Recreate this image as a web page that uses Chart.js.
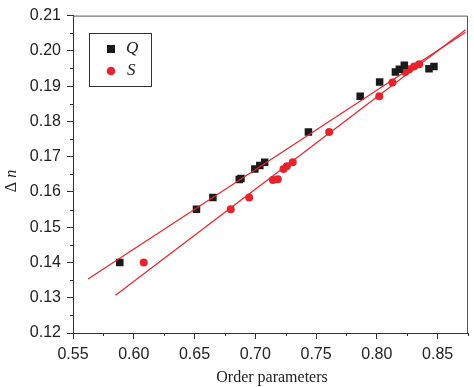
<!DOCTYPE html>
<html><head><meta charset="utf-8">
<script src="https://cdn.jsdelivr.net/npm/chart.js@4/dist/chart.umd.min.js"></script>
<style>html,body{margin:0;padding:0;background:#fff}</style>
</head><body>
<canvas id="c" width="474" height="387"></canvas>
<script>
// Q (black squares)
const qOrder = [0.5885,0.6516,0.6651,0.6868,0.6882,0.6996,0.7037,0.7077,0.7437,0.7863,0.8023,0.8153,0.8185,0.8226,0.8429,0.8470];
const qDn    = [0.1400,0.1551,0.1584,0.1635,0.1638,0.1665,0.1675,0.1684,0.1770,0.1871,0.1912,0.1940,0.1948,0.1959,0.1949,0.1956];
// S (red circles)
const sOrder = [0.6082,0.6798,0.6950,0.7145,0.7185,0.7232,0.7259,0.7308,0.7608,0.8020,0.8128,0.8234,0.8266,0.8307,0.8348];
const sDn    = [0.1400,0.1551,0.1584,0.1634,0.1636,0.1665,0.1673,0.1684,0.1770,0.1871,0.1910,0.1940,0.1948,0.1956,0.1962];
// linear fits (end points)
const qFitOrder = [0.5624, 0.8730];
const qFitDn    = [0.1353, 0.2053];
const sFitOrder = [0.5850, 0.8730];
const sFitDn    = [0.1307, 0.2060];
// tick labels
const xTicks = [0.55,0.60,0.65,0.70,0.75,0.80,0.85];
const yTicks = [0.12,0.13,0.14,0.15,0.16,0.17,0.18,0.19,0.20,0.21];

const RED = '#e8232b';
const BLACK = '#1a1a1a';
const AXIS = '#333';
const pts = (xs, ys) => xs.map((x, i) => ({x, y: ys[i]}));

function withMinors(majors, maxV){
  const out = [];
  for (let i = 0; i < majors.length; i++) {
    out.push({value: majors[i], major: true});
    const step = i + 1 < majors.length ? majors[i+1] - majors[i] : majors[i] - majors[i-1];
    const mid = majors[i] + step / 2;
    if (mid <= maxV + 1e-9) out.push({value: mid, major: false});
  }
  return out;
}

const decor = {
  id: 'decor',
  afterDraw(chart) {
    const {ctx, chartArea: a, scales: {x, y}} = chart;
    ctx.save();
    // frame top & right
    ctx.strokeStyle = '#555';
    ctx.lineWidth = 1;
    ctx.beginPath();
    ctx.moveTo(a.left, a.top + 0.5); ctx.lineTo(a.right - 0.5, a.top + 0.5);
    ctx.lineTo(a.right - 0.5, a.bottom);
    ctx.stroke();
    // minor ticks
    ctx.strokeStyle = AXIS;
    ctx.beginPath();
    x.ticks.forEach(t => { if (!t.major) { const px = Math.round(x.getPixelForValue(t.value)) + 0.5; ctx.moveTo(px, a.bottom); ctx.lineTo(px, a.bottom + 3); } });
    y.ticks.forEach(t => { if (!t.major) { const py = Math.round(y.getPixelForValue(t.value)) + 0.5; ctx.moveTo(a.left, py); ctx.lineTo(a.left - 3, py); } });
    ctx.stroke();
    // legend
    ctx.strokeStyle = '#333';
    ctx.strokeRect(89.5, 33.5, 62, 53);
    ctx.fillStyle = BLACK;
    ctx.fillRect(107, 45, 8, 8);
    ctx.fillStyle = RED;
    ctx.beginPath(); ctx.arc(111, 71, 4.3, 0, Math.PI * 2); ctx.fill();
    ctx.fillStyle = '#222';
    ctx.font = 'italic 17px "Liberation Serif", "Times New Roman", serif';
    ctx.textBaseline = 'middle';
    ctx.textAlign = 'left';
    ctx.fillText('Q', 126, 49);
    ctx.fillText('S', 127, 71);
    // x title
    ctx.font = '16px "Liberation Serif", "Times New Roman", serif';
    ctx.textAlign = 'center';
    ctx.fillText('Order parameters', 272, 378);
    // y title
    ctx.translate(12, 181);
    ctx.rotate(-Math.PI / 2);
    ctx.textAlign = 'left';
    const d = 'Δ ';
    ctx.font = '16px "Liberation Serif", "Times New Roman", serif';
    const w1 = ctx.measureText(d).width;
    ctx.font = 'italic 16px "Liberation Serif", "Times New Roman", serif';
    const w2 = ctx.measureText('n').width;
    const start = -(w1 + w2) / 2;
    ctx.font = '16px "Liberation Serif", "Times New Roman", serif';
    ctx.fillText(d, start, 0);
    ctx.font = 'italic 16px "Liberation Serif", "Times New Roman", serif';
    ctx.fillText('n', start + w1, 0);
    ctx.restore();
  }
};

const tickFont = {family: '"Liberation Sans", Arial, sans-serif', size: 16};

new Chart(document.getElementById('c'), {
  type: 'scatter',
  data: {
    datasets: [
      {label: 'Q fit', data: pts(qFitOrder, qFitDn), showLine: true, borderColor: RED, borderWidth: 1.2, pointRadius: 0, order: 0},
      {label: 'S fit', data: pts(sFitOrder, sFitDn), showLine: true, borderColor: RED, borderWidth: 1.2, pointRadius: 0, order: 0},
      {label: 'Q', data: pts(qOrder, qDn), pointStyle: 'rect', pointRadius: 5.3, backgroundColor: BLACK, borderWidth: 0, order: 1},
      {label: 'S', data: pts(sOrder, sDn), pointStyle: 'circle', pointRadius: 4.0, backgroundColor: RED, borderWidth: 0, order: 1}
    ]
  },
  options: {
    responsive: false,
    animation: false,
    layout: {padding: {top: 8, right: 2, left: 0, bottom: 0}},
    plugins: {legend: {display: false}, tooltip: {enabled: false}},
    scales: {
      x: {
        type: 'linear', min: 0.55, max: 0.875,
        afterBuildTicks: s => { s.ticks = withMinors(xTicks, 0.875); },
        afterFit: s => { s.height = 54; },
        ticks: {font: tickFont, color: '#222', padding: 6, maxRotation: 0, autoSkip: false,
          callback: function(v, i, t) { return t[i].major ? v.toFixed(2) : ''; }},
        grid: {display: true, drawOnChartArea: false, drawTicks: true, tickLength: 6,
          tickColor: c => (c.tick && c.tick.major) ? AXIS : 'rgba(0,0,0,0)'},
        border: {display: true, color: AXIS, width: 1}
      },
      y: {
        type: 'linear', min: 0.12, max: 0.21,
        afterBuildTicks: s => { s.ticks = withMinors(yTicks, 0.21); },
        afterFit: s => { s.width = 73; },
        ticks: {font: tickFont, color: '#222', padding: 6, autoSkip: false,
          callback: function(v, i, t) { return t[i].major ? v.toFixed(2) : ''; }},
        grid: {display: true, drawOnChartArea: false, drawTicks: true, tickLength: 6,
          tickColor: c => (c.tick && c.tick.major) ? AXIS : 'rgba(0,0,0,0)'},
        border: {display: true, color: AXIS, width: 1}
      }
    }
  },
  plugins: [decor]
});
</script>
</body></html>
